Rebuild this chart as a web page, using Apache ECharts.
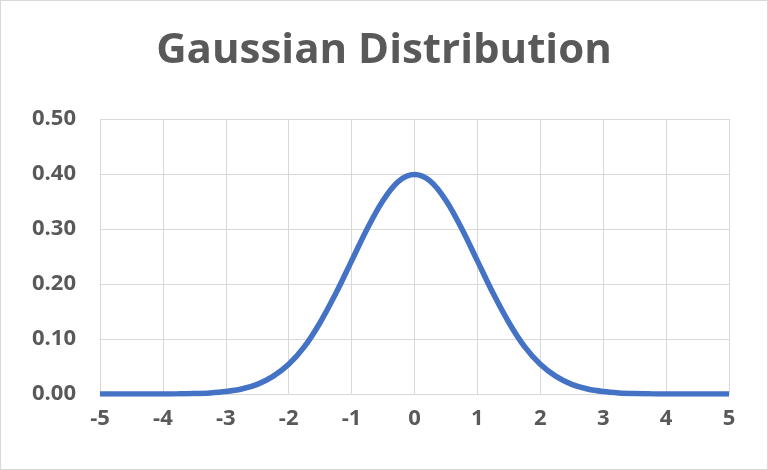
<!DOCTYPE html>
<html>
<head>
<meta charset="UTF-8">
<script src="https://cdn.jsdelivr.net/npm/echarts@6/dist/echarts.min.js"></script>
<style>
  html, body { margin: 0; padding: 0; background: #fff; }
  #chart { width: 768px; height: 470px; box-sizing: border-box; border: 1px solid #d9d9d9; }
</style>
</head>
<body>
<div id="chart"></div>
<script>
// values
const xs = [-5, -4.75, -4.5, -4.25, -4, -3.75, -3.5, -3.25, -3, -2.75, -2.5, -2.25, -2, -1.75, -1.5, -1.25, -1, -0.75, -0.5, -0.25,
  0, 0.25, 0.5, 0.75, 1, 1.25, 1.5, 1.75, 2, 2.25, 2.5, 2.75, 3, 3.25, 3.5, 3.75, 4, 4.25, 4.5, 4.75, 5];
const density = [0, 0, 0, 0, 0.0001, 0.0004, 0.0009, 0.002, 0.0044, 0.009, 0.0175, 0.032, 0.054, 0.086, 0.130, 0.183, 0.242, 0.301, 0.352, 0.387,
  0.399, 0.387, 0.352, 0.301, 0.242, 0.183, 0.130, 0.086, 0.054, 0.032, 0.0175, 0.009, 0.0044, 0.002, 0.0009, 0.0004, 0.0001, 0, 0, 0, 0];

const chart = echarts.init(document.getElementById('chart'));
const label = { color: '#595959', fontSize: 22, fontWeight: 'bold', fontFamily: 'Open Sans' };
chart.setOption({
  title: {
    text: 'Gaussian Distribution', left: 'center', top: 24,
    textStyle: { color: '#595959', fontSize: 42, fontWeight: 'bold', fontFamily: 'Open Sans' }
  },
  grid: { left: 99, right: 38, top: 118, bottom: 75 },
  xAxis: {
    type: 'value', min: -5, max: 5, interval: 1,
    axisLine: { show: false }, axisTick: { show: false },
    axisLabel: Object.assign({ margin: 14 }, label),
    splitLine: { lineStyle: { color: '#d9d9d9' } }
  },
  yAxis: {
    type: 'value', min: 0, max: 0.5, interval: 0.1,
    axisLine: { show: false }, axisTick: { show: false },
    axisLabel: Object.assign({ margin: 24, formatter: v => v.toFixed(2) }, label),
    splitLine: { lineStyle: { color: '#d9d9d9' } }
  },
  series: [{
    type: 'line', smooth: 0.35, symbol: 'none',
    lineStyle: { color: '#4472C4', width: 5.5 },
    data: xs.map((x, i) => [x, density[i]])
  }]
});
</script>
</body>
</html>
